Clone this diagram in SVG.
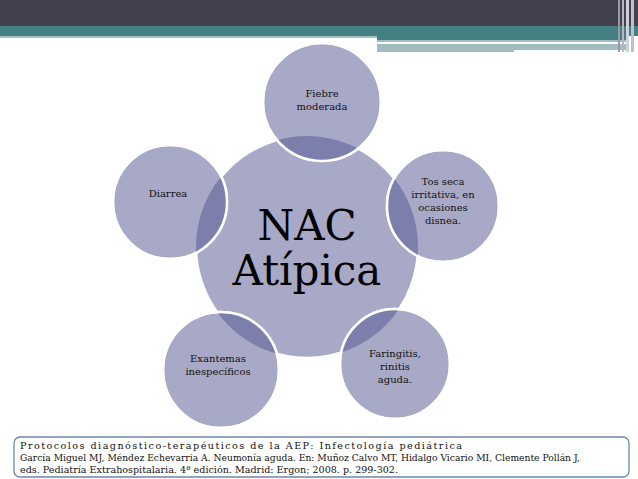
<svg xmlns="http://www.w3.org/2000/svg" width="638" height="479" viewBox="0 0 638 479">
<style>
.lt{fill:#a8a9c7;stroke:#fff;stroke-width:2.5}
.dk{fill:#7c7eab}
.ring{fill:none;stroke:#fff;stroke-width:2.5}
text{font-family:'DejaVu Serif','Liberation Serif',serif}
.t{font-size:10px;fill:#111;text-anchor:middle}
.ref{font-size:9.6px;fill:#111}
</style>
<defs>
<clipPath id="c"><circle cx="307" cy="247" r="111"/></clipPath>
</defs>
<rect width="638" height="479" fill="#fff"/>
<g id="header">
<rect x="0" y="0" width="638" height="26" fill="#41414f"/>
<rect x="0" y="26" width="638" height="10" fill="#447f84"/>
<rect x="0" y="36" width="377" height="2" fill="#a0bec0"/>
<rect x="377" y="36" width="250" height="4" fill="#447f84"/>
<rect x="377" y="40" width="250" height="2" fill="#a0bec0"/>
<rect x="377" y="44" width="250" height="6" fill="#a0bec0"/>
<rect x="377" y="50" width="137" height="2" fill="#a0bec0"/>
<rect x="618" y="0" width="2" height="52" fill="#9a9aa8"/>
<rect x="622" y="0" width="2" height="52" fill="#b8b8c4"/>
<rect x="626" y="0" width="3" height="52" fill="#d0d0d8"/>
<rect x="631" y="0" width="3" height="52" fill="#c0c0c8"/>
</g>
<g id="center"><circle class="lt" cx="307" cy="247" r="111"/></g>
<g id="n1"><circle class="lt" cx="322" cy="102" r="59"/><circle class="dk" cx="322" cy="102" r="59" clip-path="url(#c)"/><circle class="ring" cx="322" cy="102" r="59"/>
<text class="t" x="322" y="97">Fiebre</text><text class="t" x="322" y="110">moderada</text></g>
<g id="n2"><circle class="lt" cx="443" cy="206" r="56"/><circle class="dk" cx="443" cy="206" r="56" clip-path="url(#c)"/><circle class="ring" cx="443" cy="206" r="56"/>
<text class="t" x="443" y="185">Tos seca</text><text class="t" x="443" y="198">irritativa, en</text><text class="t" x="443" y="211">ocasiones</text><text class="t" x="443" y="224">disnea.</text></g>
<g id="n3"><circle class="lt" cx="395" cy="364" r="55"/><circle class="dk" cx="395" cy="364" r="55" clip-path="url(#c)"/><circle class="ring" cx="395" cy="364" r="55"/>
<text class="t" x="395" y="357">Faringitis,</text><text class="t" x="395" y="370">rinitis</text><text class="t" x="395" y="383">aguda.</text></g>
<g id="n4"><circle class="lt" cx="221" cy="370" r="58"/><circle class="dk" cx="221" cy="370" r="58" clip-path="url(#c)"/><circle class="ring" cx="221" cy="370" r="58"/>
<text class="t" x="218" y="362">Exantemas</text><text class="t" x="218" y="375">inespecíficos</text></g>
<g id="n5"><circle class="lt" cx="170" cy="202" r="57"/><circle class="dk" cx="170" cy="202" r="57" clip-path="url(#c)"/><circle class="ring" cx="170" cy="202" r="57"/>
<text class="t" x="168" y="197">Diarrea</text></g>
<text x="307" y="240" font-size="42" text-anchor="middle" fill="#000">NAC</text>
<text x="307" y="285" font-size="42" text-anchor="middle" fill="#000">Atípica</text>
<g id="ref">
<rect x="14" y="437" width="615" height="40" rx="6" fill="#fff" stroke="#6b88a8" stroke-width="1.3"/>
<text class="ref" x="20" y="449" textLength="442">Protocolos diagnóstico-terapéuticos de la AEP: Infectología pediátrica</text>
<text class="ref" x="20" y="461" textLength="560" lengthAdjust="spacingAndGlyphs">García Miguel MJ, Méndez Echevarria A. Neumonía aguda. En: Muñoz Calvo MT, Hidalgo Vicario MI, Clemente Pollán J,</text>
<text class="ref" x="20" y="473" textLength="378" lengthAdjust="spacingAndGlyphs">eds. Pediatría Extrahospitalaria. 4ª edición. Madrid: Ergon; 2008. p. 299-302.</text>
</g>
</svg>
